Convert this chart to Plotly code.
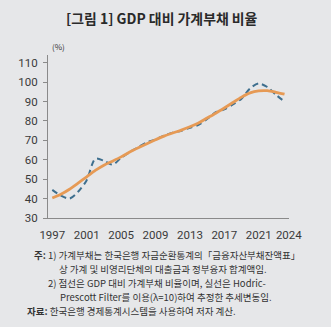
import plotly.graph_objects as go

years = list(range(1997, 2025))
ratio_actual = [44.5, 41.5, 40.0, 43.5, 49.5, 60.5, 59.5, 57.5, 61.0, 64.0,
                66.5, 69.0, 70.5, 72.5, 74.0, 75.0, 76.5, 78.0, 81.0, 84.5,
                86.0, 88.5, 91.5, 96.8, 99.3, 97.5, 93.5, 90.0]
ratio_trend = [40.3, 42.2, 44.8, 48.0, 51.2, 54.5, 57.2, 59.3, 61.5, 64.0,
               66.2, 68.3, 70.3, 72.2, 73.8, 75.3, 77.0, 79.0, 81.5, 84.0,
               86.7, 89.5, 92.3, 94.5, 95.5, 95.6, 94.8, 93.8]
x_tick_labels = ["1997", "2001", "2005", "2009", "2013", "2017", "2021", "2024"]
y_ticks = [30, 40, 50, 60, 70, 80, 90, 100, 110]

# category-style axis: each year occupies one slot; labels every 4 slots,
# the last label sits at the axis end as in the source chart
x_lo, x_hi = years[0] - 0.5, years[-1] + 0.5
x_tickvals = [int(t) for t in x_tick_labels[:-1]] + [x_hi]

W, H = 331, 327
L, R, T, B = 48, 42, 55, 109
pw, ph = W - L - R, H - T - B

def px(x):
    return (x - L) / pw

def py(y):
    return (H - B - y) / ph

BG = "#E6E7E9"
TXT = "#333333"
tick_font = dict(family="Roboto, sans-serif", size=11.5, color="#3a3a3a")
kr = "Noto Sans CJK KR, sans-serif"

fig = go.Figure()
fig.add_trace(go.Scatter(x=years, y=ratio_actual, mode="lines",
                         line=dict(color="#3E6F8E", width=2, dash="6px,4px", shape="spline", smoothing=0.8),
                         hoverinfo="skip", showlegend=False))
fig.add_trace(go.Scatter(x=years, y=ratio_trend, mode="lines",
                         line=dict(color="#E69A55", width=2.8, shape="spline", smoothing=0.8),
                         hoverinfo="skip", showlegend=False))

fig.update_layout(
    width=W, height=H,
    margin=dict(l=L, r=R, t=T, b=B),
    paper_bgcolor=BG, plot_bgcolor=BG,
    showlegend=False,
    xaxis=dict(range=[x_lo, x_hi + 0.02], tickvals=x_tickvals, ticktext=x_tick_labels, tickangle=0,
               showgrid=False, zeroline=False, showline=True, linecolor="#8a8a8a", linewidth=1,
               ticks="", tickfont=tick_font, ticklabelstandoff=6, fixedrange=True),
    yaxis=dict(range=[30, 114], tickvals=y_ticks, showgrid=False, zeroline=False,
               showline=True, linecolor="#8a8a8a", linewidth=1,
               ticks="outside", ticklen=4, tickcolor="#8a8a8a", tickfont=tick_font,
               ticklabelstandoff=3, fixedrange=True),
)

anns = [
    dict(text="<b>[그림 1] GDP 대비 가계부채 비율</b>", x=px(162), y=py(18), xanchor="center",
         font=dict(family=kr, size=13.9, color="#2a2a2a")),
    dict(text="(%)", x=px(50), y=py(46), xanchor="left", font=dict(family=kr, size=8, color=TXT)),
    dict(text="<b>주:</b> 1) 가계부채는 한국은행 자금순환통계의「금융자산부채잔액표」", x=px(32), y=py(255), xanchor="left",
         font=dict(family=kr, size=9.5, color=TXT)),
    dict(text="상 가계 및 비영리단체의 대출금과 정부융자 합계액임.", x=px(57), y=py(269), xanchor="left",
         font=dict(family=kr, size=9.5, color=TXT)),
    dict(text="2) 점선은 GDP 대비 가계부채 비율이며, 실선은 Hodric-", x=px(46), y=py(283), xanchor="left",
         font=dict(family=kr, size=9.5, color=TXT)),
    dict(text="Prescott Filter를 이용(λ=10)하여 추정한 추세변동임.", x=px(58), y=py(297), xanchor="left",
         font=dict(family=kr, size=9.5, color=TXT)),
    dict(text="<b>자료:</b> 한국은행 경제통계시스템을 사용하여 저자 계산.", x=px(25), y=py(311), xanchor="left",
         font=dict(family=kr, size=9.5, color=TXT)),
]
for a in anns:
    a.update(xref="paper", yref="paper", yanchor="middle", showarrow=False)
    fig.add_annotation(**a)

fig.write_html("out.html", config={"displayModeBar": False})
